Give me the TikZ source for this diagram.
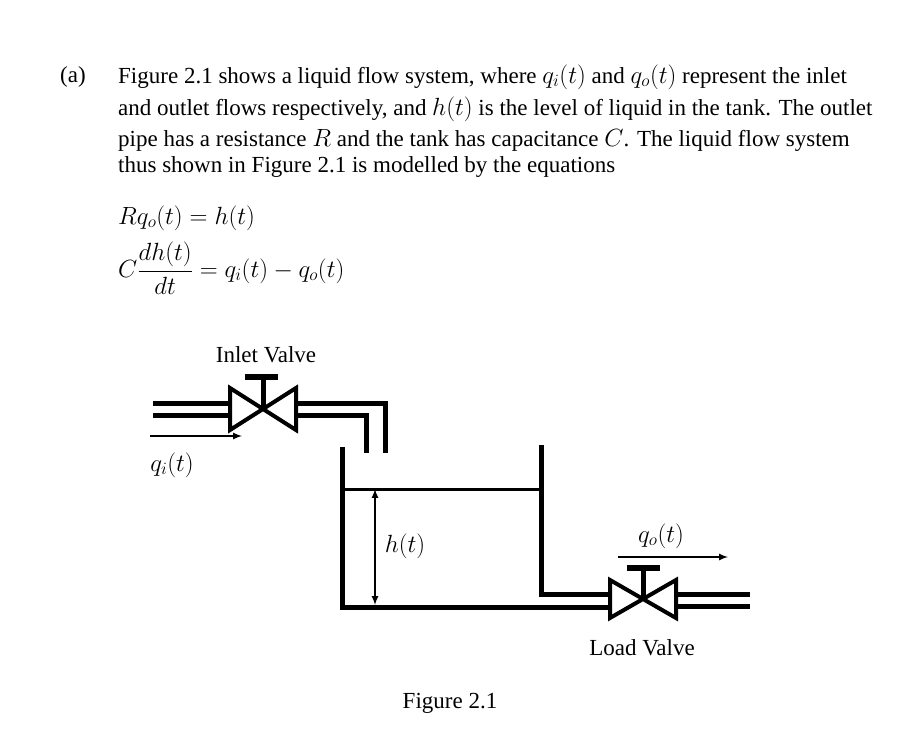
\documentclass[tikz,border=0pt]{standalone}
\usepackage{fontspec}
\setmainfont{Liberation Serif}
\begin{document}
\begin{tikzpicture}[x=1pt,y=-1pt,
  txt/.style={font=\fontsize{23}{28}\selectfont, anchor=west, inner sep=0},
  lbl/.style={font=\fontsize{23}{28}\selectfont, inner sep=0},
  pipe/.style={line width=5pt},
  thin/.style={line width=2pt},
  tri/.style={line width=4pt, line join=miter}]
\useasboundingbox (0,0) rectangle (910,738);
\node[txt] (a) at (60,77) {(a)};
\node[txt] (l1) at (118,77) {Figure 2.1 shows a liquid flow system, where $q_i(t)$ and $q_o(t)$ represent the inlet};
\node[txt] (l2) at (118,109) {and outlet flows respectively, and $h(t)$ is the level of liquid in the tank. The outlet};
\node[txt] (l3) at (118,140) {pipe has a resistance $R$ and the tank has capacitance $C$. The liquid flow system};
\node[txt] (l4) at (118,167) {thus shown in Figure 2.1 is modelled by the equations};
\node[txt] (e1) at (118,218) {$Rq_o(t)=h(t)$};
\node[txt] (e2) at (118,268) {$C\displaystyle\frac{dh(t)}{dt}=q_i(t)-q_o(t)$};
% inlet
\node[lbl] (iv) at (266,355) {Inlet Valve};
\draw[pipe] (153,403) -- (229,403) (153,415) -- (229,415);
\draw[tri] (230,388) -- (230,430) -- (296,388) -- (296,430) -- cycle;
\draw[pipe] (263,409) -- (263,377);
\draw[line width=6pt] (245,377) -- (278,377);
\draw[pipe,line join=miter] (297,403) -- (385,403) -- (385,453);
\draw[pipe,line join=miter] (297,415) -- (366,415) -- (366,453);
\coordinate (qa) at (150,436); \coordinate (qb) at (242,436);
\draw[thin,-latex] (qa) -- (qb);
\node[lbl] (qi) at (172,465) {$q_i(t)$};
% tank
\draw[pipe,line join=miter] (342,447) -- (342,607) -- (608,607);
\draw[pipe,line join=miter] (541,445) -- (541,594) -- (608,594);
\draw[line width=3pt] (342,489) -- (541,489);
\coordinate (ha) at (375,489); \coordinate (hb) at (375,605);
\draw[thin,latex-latex] (ha) -- (hb);
\node[lbl] (h) at (405,546) {$h(t)$};
% load valve
\draw[tri] (610,580) -- (610,618) -- (676,580) -- (676,618) -- cycle;
\draw[pipe] (643,599) -- (643,568);
\draw[line width=6pt] (627,568) -- (660,568);
\draw[pipe] (677,594) -- (750,594) (677,606) -- (750,606);
\coordinate (oa) at (618,557); \coordinate (ob) at (728,557);
\draw[thin,-latex] (oa) -- (ob);
\node[lbl] (qo) at (661,536) {$q_o(t)$};
\node[lbl] (lv) at (642,648) {Load Valve};
\node[lbl] (fig) at (450,703) {Figure 2.1};
\end{tikzpicture}
\end{document}
